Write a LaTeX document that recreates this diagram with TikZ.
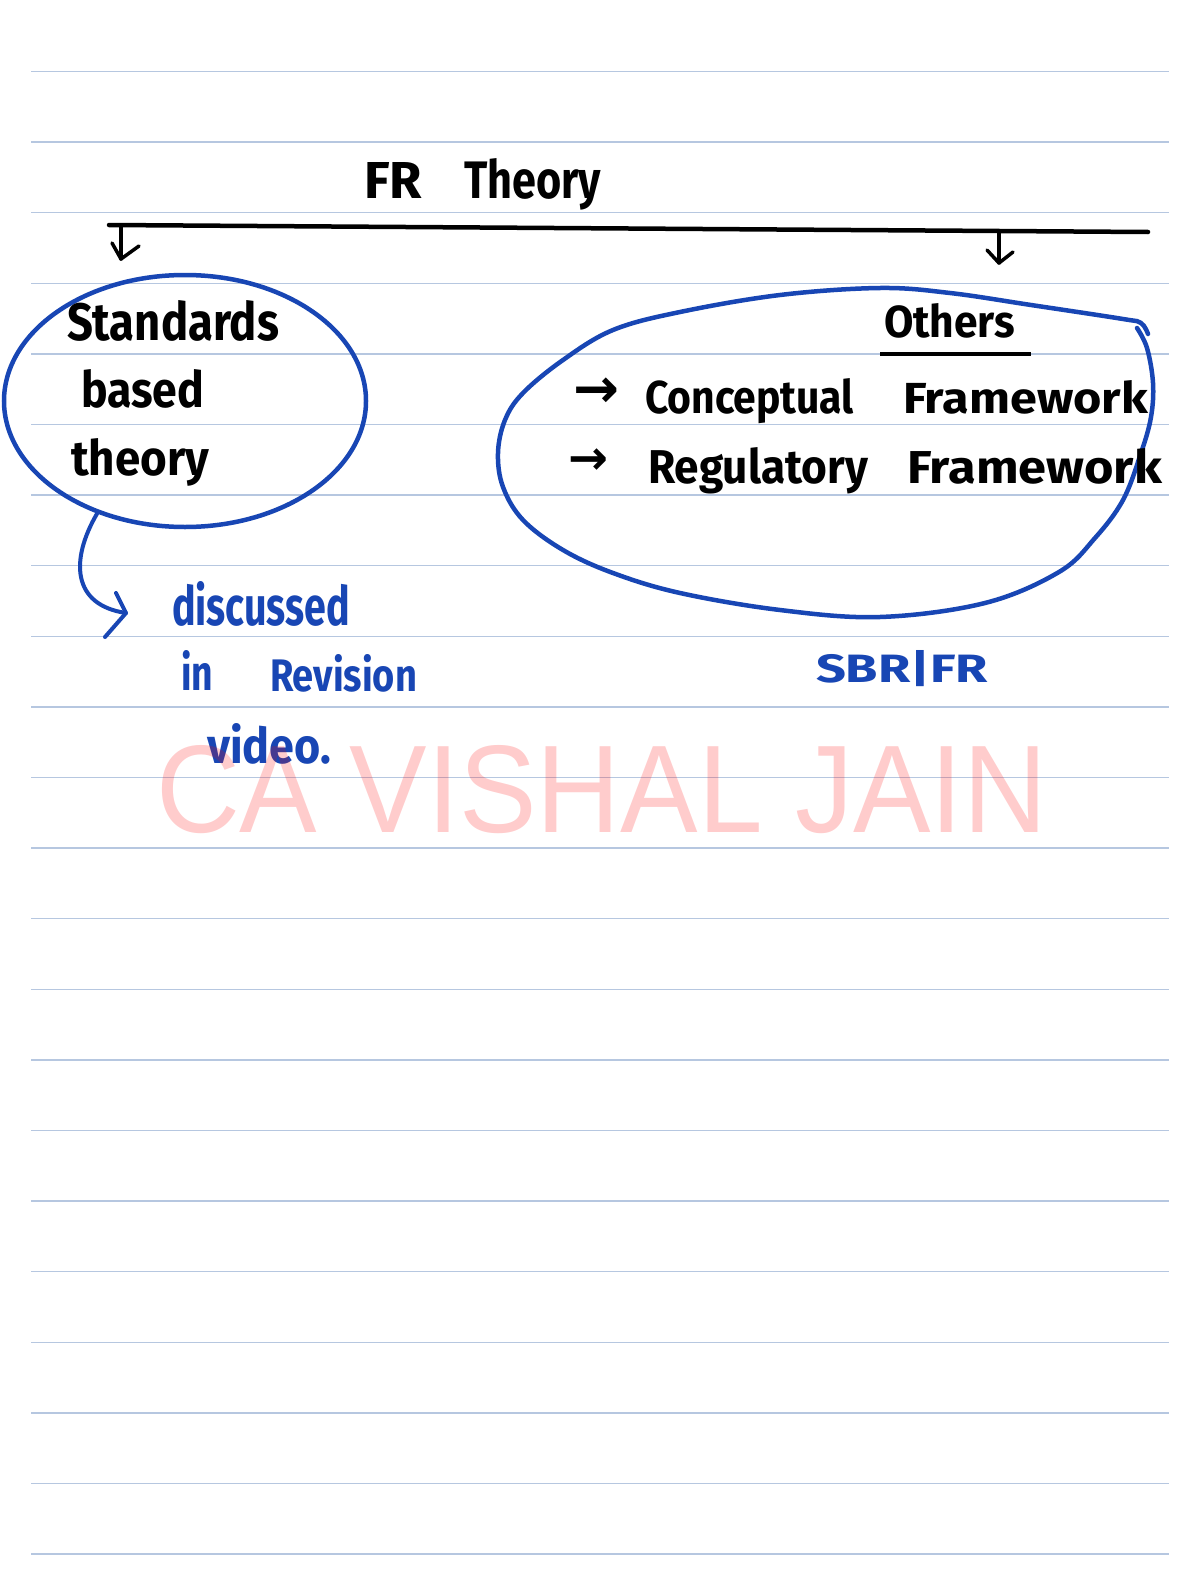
\documentclass[tikz,border=0pt]{standalone}
\usepackage{fontspec}
\usepackage{graphicx}
\usetikzlibrary{shapes.geometric}
\newfontfamily\hand{Fira Sans}
\newfontfamily\wmfont{Liberation Sans}
\newfontfamily\arrfont{DejaVu Sans}
\definecolor{inkblue}{RGB}{24,70,180}
\definecolor{rulecol}{RGB}{182,199,224}
\newcommand{\hw}[3]{\resizebox{#1pt}{#2pt}{\hand\bfseries #3}}
\tikzset{
  txt/.style={inner sep=0pt, outer sep=0pt, anchor=base west},
  inkline/.style={line width=4.5pt, line cap=round, line join=round},
  penline/.style={line width=3.5pt, line cap=round, line join=round},
}
\begin{document}
\begin{tikzpicture}[x=1pt,y=-1pt]
\useasboundingbox (0,0) rectangle (1200,1576);
\fill[white] (0,0) rectangle (1200,1576);
% ruled paper
\foreach \k in {0,...,21}{
  \pgfmathsetmacro\yy{71.5+70.6*\k}
  \draw[rulecol, line width=1.5pt] (31,\yy) -- (1169,\yy);
}
% title
\node[txt] (fr) at (364,198) {\hw{58}{36}{FR}};
\node[txt] (theory) at (464,198) {\hw{137}{40}{Theory}};
% main line
\coordinate (la) at (109,225);
\coordinate (lb) at (1148,232);
\draw[inkline, black] (la) -- (lb);
% left down arrow
\coordinate (a1t) at (121,226);
\coordinate (a1b) at (121,259);
\draw[penline, black] (a1t) -- (a1b);
\draw[penline, black] (112,243) -- (a1b) -- (139,246);
% right down arrow
\coordinate (a2t) at (999,232);
\coordinate (a2b) at (999,263);
\draw[penline, black] (a2t) -- (a2b);
\draw[penline, black] (987,250) -- (a2b) -- (1013,252);
% left ellipse
\node[draw=inkblue, line width=4.5pt, ellipse, minimum width=362pt, minimum height=252pt, inner sep=0pt] (lell) at (185,401) {};
\node[txt] (std) at (67,340) {\hw{212}{40}{Standards}};
\node[txt] (based) at (81,407) {\hw{123}{38}{based}};
\node[txt] (thy) at (71,475) {\hw{138}{37}{theory}};
% curved arrow
\coordinate (tip) at (126,613);
\draw[inkline, inkblue, line width=4pt] (lell.232) .. controls (70,560) and (72,605) .. (tip);
\draw[inkline, inkblue, line width=4pt] (116,593) -- (tip) -- (105,637);
\node[txt, text=inkblue] (disc) at (172,625) {\hw{178}{44}{discussed}};
\node[txt, text=inkblue] (in) at (181,690) {\hw{32}{40}{in}};
\node[txt, text=inkblue] (rev) at (270,691) {\hw{147}{37}{Revision}};
\node[txt, text=inkblue] (vid) at (207,763) {\hw{124}{40}{video.}};
% right ellipse
\draw[inkline, inkblue] plot[smooth, tension=0.6] coordinates {
 (1148,334) (1141,323) (1123,319) (1031,305) (950,293) (880,288) (780,295)
 (680,312) (613,330) (563,360) (523,393) (505,420) (498,453) (503,487)
 (523,520) (563,550) (613,573) (680,593) (780,610) (880,617) (985,603)
 (1059,572) (1095,538) (1123,500) (1141,453) (1151,417) (1153,383)
 (1147,348) (1137,328)};
\node[txt] (oth) at (884,337) {\hw{131}{34}{Others}};
\coordinate (u1) at (880,354);
\coordinate (u2) at (1031,354);
\draw[black, line width=4pt] (u1) -- (u2);
\node[inner sep=0pt] (ar1) at (596,393) {\resizebox{46pt}{!}{\arrfont\bfseries →}};
\node[txt] (conc) at (645,413) {\hw{209}{35}{Conceptual}};
\node[txt] (fw1) at (903,413) {\hw{245}{33}{Framework}};
\node[inner sep=0pt] (ar2) at (588,462) {\resizebox{40pt}{!}{\arrfont\bfseries →}};
\node[txt] (reg) at (648,483) {\hw{220}{36}{Regulatory}};
\node[txt] (fw2) at (907,483) {\hw{255}{35}{Framework}};
\node[txt, text=inkblue] (sbr) at (816,682) {\hw{172}{32}{SBR|FR}};
% watermark
\node[txt, text=red, text opacity=0.2] (wm) at (156,832) {\resizebox{891pt}{87pt}{\wmfont CA VISHAL JAIN}};
\end{tikzpicture}
\end{document}
